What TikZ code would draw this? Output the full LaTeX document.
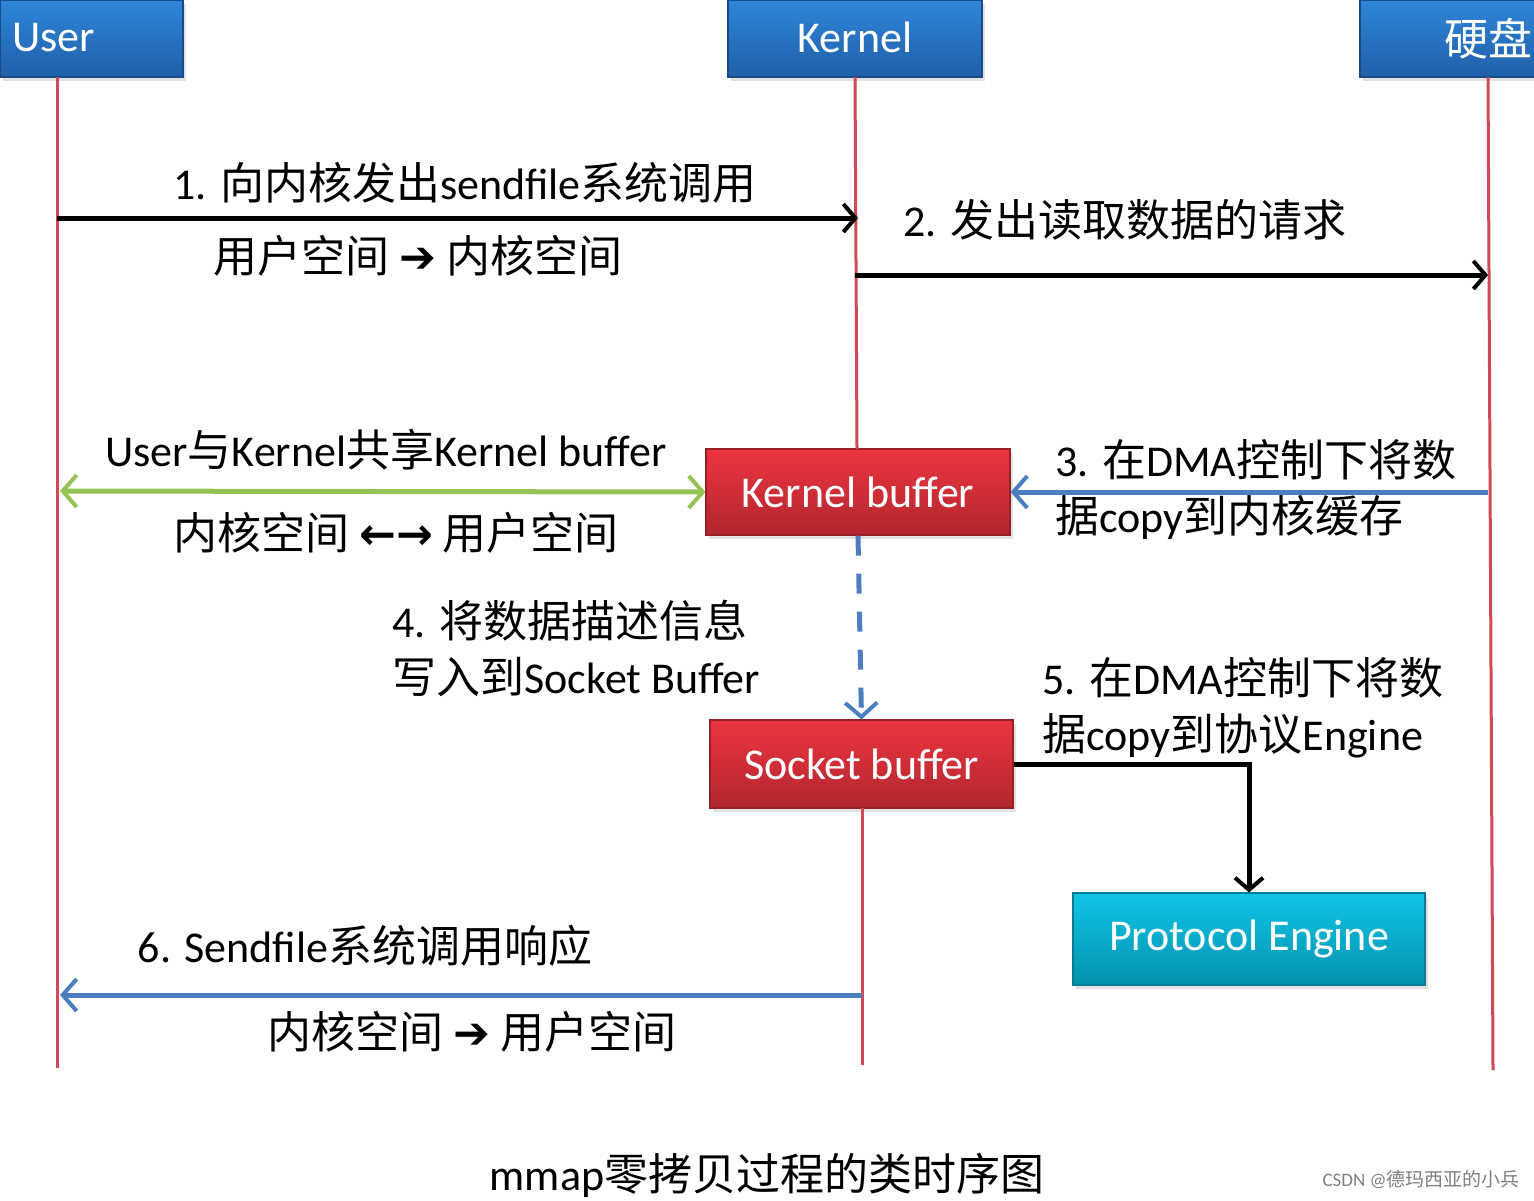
\documentclass[tikz,border=0pt]{standalone}
\usepackage{fontspec}
\setmainfont{Carlito}
\newfontfamily\cjk{Noto Sans CJK SC}
\newfontfamily\dejavu{DejaVu Sans}
\newcommand{\zh}[1]{{\cjk #1}}
\newcommand{\rarr}{{\dejavu\bfseries ➔}}
\usetikzlibrary{arrows.meta,shadows}
\definecolor{lifered}{HTML}{CF4A52}
\definecolor{hdtop}{HTML}{2F86DA}
\definecolor{hdbot}{HTML}{1F5FA8}
\definecolor{rdtop}{HTML}{EC3540}
\definecolor{rdbot}{HTML}{B2262D}
\definecolor{cytop}{HTML}{10C4E6}
\definecolor{cybot}{HTML}{0392AE}
\definecolor{arrblue}{HTML}{4A7EBF}
\definecolor{arrgreen}{HTML}{94C253}
\begin{document}
\begin{tikzpicture}[x=0.5pt,y=-0.5pt,
  font=\fontsize{22pt}{28pt}\selectfont,
  boxbase/.style={rectangle, inner sep=0pt, text=white,
    drop shadow={shadow xshift=1.5pt, shadow yshift=-2pt, fill=black!22}},
  header/.style={boxbase, top color=hdtop, bottom color=hdbot, draw=hdbot!80!black, line width=0.6pt, minimum height=38.5pt},
  redbox/.style={boxbase, top color=rdtop, bottom color=rdbot, draw=rdbot!85!black, line width=0.6pt},
  cyanbox/.style={boxbase, top color=cytop, bottom color=cybot, draw=cybot!85!black, line width=0.6pt},
  lifeline/.style={draw=lifered, line width=1.5pt},
  blackarr/.style={draw=black, line width=2.5pt, -{Straight Barb[length=6pt,width=14pt,line width=2pt]}},
  bluearr/.style={draw=arrblue, line width=2.5pt, -{Straight Barb[length=7pt,width=16pt,line width=2pt]}},
  greenarr/.style={draw=arrgreen, line width=2.5pt, {Straight Barb[length=7pt,width=16pt,line width=2pt]}-{Straight Barb[length=7pt,width=16pt,line width=2pt]}},
  lbl/.style={inner sep=0pt, text=black},
  mlbl/.style={inner sep=0pt, text=black, align=left, anchor=west}
]
\useasboundingbox (0,0) rectangle (1534,1200);
\fill[white] (0,0) rectangle (1534,1200);

% headers
\node[header, text width=79.5pt, inner xsep=6pt, align=left] (user) at (91.5,38.5) {\raisebox{1pt}{User}};
\node[header, minimum width=127pt] (kernel) at (855,38.5) {\raisebox{1pt}{Kernel}};
\node[header, text width=84pt, inner xsep=2pt, align=right] (disk) at (1448,38.5) {\raisebox{1pt}{\zh{硬盘}}};

% boxes
\node[redbox, minimum width=152pt, minimum height=43pt] (kb) at (858,492) {Kernel buffer};
\node[redbox, minimum width=151.5pt, minimum height=44pt] (sb) at (861.5,764) {Socket buffer};
\node[cyanbox, minimum width=176pt, minimum height=46pt] (pe) at (1249,939) {Protocol Engine};

% lifeline coordinates
\coordinate (uTop) at (57,77);
\coordinate (uEnd) at (57,1068);
\coordinate (kTop) at (855,77);
\coordinate (kbTop) at (857,449);
\coordinate (sbBot) at (862,808);
\coordinate (kEnd) at (862,1065);
\coordinate (dTop) at (1488,77);
\coordinate (dEnd) at (1493,1070);

\draw[lifeline] (uTop) -- (uEnd);
\draw[lifeline] (kTop) -- (kbTop);
\draw[lifeline] (sbBot) -- (kEnd);
\draw[lifeline] (dTop) -- (dEnd);

% message coordinates
\coordinate (m1s) at (57,218);
\coordinate (m1e) at (858,218);
\coordinate (m2s) at (855,275);
\coordinate (m2e) at (1488,275);
\coordinate (gs) at (60,491);
\coordinate (m3s) at (1488,492);
\coordinate (m6s) at (862,995);
\coordinate (m6e) at (60,995);

\draw[blackarr] (m1s) -- (m1e);
\draw[blackarr] (m2s) -- (m2e);
\draw[greenarr] (gs) -- (kb.west);
\draw[bluearr] (m3s) -- (kb.east |- m3s);
\draw[bluearr, dash pattern=on 10pt off 9pt] (kb.south) -- (sb.north);
\draw[blackarr] (sb.east) -| (pe.north);
\draw[bluearr] (m6s) -- (m6e);

% labels
\node[lbl] (l1) at (465,183) {1. \zh{向内核发出}sendfile\zh{系统调用}};
\node[lbl] (l1b) at (418,256) {\zh{用户空间} \rarr{} \zh{内核空间}};
\node[lbl] (l2) at (1125,220) {2. \zh{发出读取数据的请求}};
\node[lbl] (lg) at (386,450) {User\zh{与}Kernel\zh{共享}Kernel buffer};
\node[lbl] (lgb) at (396,533) {\zh{内核空间} {\dejavu\bfseries ←→} \zh{用户空间}};
\node[mlbl] (l3) at (1055,490) {3. \zh{在}DMA\zh{控制下将数}\\\zh{据}copy\zh{到内核缓存}};
\node[mlbl] (l4) at (392,648) {4. \zh{将数据描述信息}\\\zh{写入到}Socket Buffer};
\node[mlbl] (l5) at (1042,708) {5. \zh{在}DMA\zh{控制下将数}\\\zh{据}copy\zh{到协议}Engine};
\node[lbl] (l6) at (365,946) {6. Sendfile\zh{系统调用响应}};
\node[lbl] (l6b) at (472,1032) {\zh{内核空间} \rarr{} \zh{用户空间}};
\node[lbl] (cap) at (767,1175) {mmap\zh{零拷贝过程的类时序图}};
\node[lbl, anchor=east, text=black!50, font=\fontsize{9.5pt}{11pt}\selectfont] (wm) at (1520,1180) {CSDN @\zh{德玛西亚的小兵}};
\end{tikzpicture}
\end{document}
